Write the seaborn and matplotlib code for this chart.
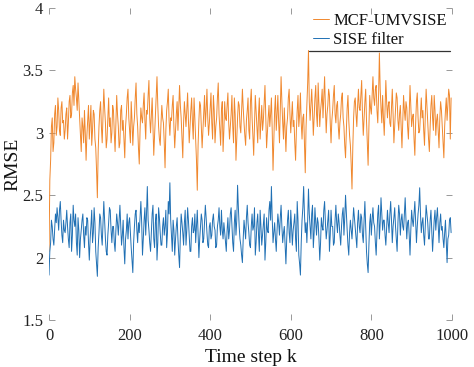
import numpy as np
import pandas as pd
import matplotlib
matplotlib.use('Agg')
import matplotlib.pyplot as plt
from matplotlib.lines import Line2D
import seaborn as sns

# --- Data (one value every 2 time steps) ---
STEP = 2
mcf_umvsise = [
    2.05, 2.62, 2.78, 3.05, 3.12, 2.85, 2.92, 3.15, 3.22, 2.98, 3.05, 3.28, 3.18, 3.02, 2.98, 3.20, 3.25, 3.08, 3.10, 2.95,
    3.02, 3.15, 3.20, 2.95, 3.08, 3.25, 3.30, 3.12, 3.15, 3.32, 3.38, 3.22, 3.45, 3.35, 3.28, 3.18, 3.40, 3.25, 3.12, 2.98,
    2.85, 3.12, 3.05, 2.92, 3.18, 3.00, 2.78, 2.98, 3.10, 3.22, 2.95, 3.08, 3.22, 2.90, 3.02, 3.18, 3.15, 2.95, 2.88, 2.70,
    2.48, 2.85, 3.05, 3.18, 3.25, 3.05, 2.92, 3.15, 3.35, 3.20, 3.08, 2.88, 2.95, 3.12, 3.28, 3.05, 3.12, 2.92, 3.00, 3.22,
    3.18, 3.00, 2.85, 3.08, 3.30, 3.15, 3.05, 2.88, 2.92, 3.18, 3.22, 3.02, 3.10, 2.95, 2.80, 3.05, 3.15, 3.28, 3.35, 3.12,
    3.02, 2.92, 3.25, 3.10, 2.90, 3.05, 3.12, 3.28, 3.40, 3.15, 3.05, 2.88, 2.75, 3.02, 3.20, 3.12, 3.08, 3.22, 3.32, 3.10,
    2.95, 3.18, 3.15, 3.30, 3.42, 3.12, 3.00, 3.15, 3.28, 3.05, 2.82, 2.98, 3.12, 3.30, 3.45, 3.22, 3.05, 2.95, 2.90, 3.08,
    3.22, 3.12, 3.08, 2.92, 2.72, 3.02, 3.18, 3.25, 3.35, 3.10, 2.98, 3.12, 3.10, 3.22, 3.30, 3.05, 2.88, 3.02, 3.15, 3.25,
    3.02, 3.20, 3.38, 3.22, 3.12, 2.95, 2.80, 3.08, 3.25, 3.15, 3.05, 3.18, 3.32, 3.10, 2.92, 3.05, 3.18, 3.28, 3.08, 2.95,
    3.28, 3.12, 2.95, 2.78, 2.54, 2.90, 3.10, 3.25, 3.22, 3.05, 2.88, 3.02, 3.15, 3.30, 3.05, 3.18, 3.35, 3.12, 2.98, 3.08,
    3.20, 3.32, 3.08, 2.95, 3.30, 3.18, 2.92, 3.05, 3.12, 3.28, 3.40, 3.15, 3.02, 2.90, 3.18, 3.25, 2.85, 3.02, 3.25, 3.12,
    3.10, 3.22, 3.32, 3.08, 2.95, 3.05, 3.15, 3.30, 3.05, 2.92, 3.28, 3.15, 2.78, 2.95, 3.12, 3.25, 3.22, 3.05, 3.00, 3.18,
    3.35, 3.20, 3.08, 2.98, 2.90, 3.10, 3.18, 3.28, 3.02, 2.95, 3.25, 3.35, 3.12, 2.98, 2.82, 3.05, 3.30, 3.18, 3.05, 2.92,
    3.15, 3.28, 2.95, 3.08, 3.22, 3.02, 3.10, 3.25, 3.38, 3.12, 2.88, 3.00, 3.12, 3.22, 3.05, 3.15, 3.28, 3.02, 2.70, 2.95,
    3.18, 3.30, 3.02, 3.15, 3.30, 3.08, 2.92, 3.18, 3.45, 3.25, 3.08, 2.95, 3.20, 3.02, 2.85, 3.05, 3.12, 3.28, 3.35, 3.15,
    3.00, 3.12, 3.25, 3.05, 3.10, 2.92, 2.78, 3.02, 3.18, 3.30, 3.05, 3.15, 3.32, 3.08, 2.95, 3.12, 3.15, 2.90, 2.68, 3.05,
    3.22, 3.40, 3.66, 3.25, 3.10, 3.22, 3.35, 3.18, 2.98, 3.12, 3.28, 3.38, 3.15, 3.05, 3.40, 3.22, 3.05, 3.18, 3.25, 3.35,
    3.12, 3.28, 3.45, 3.20, 3.00, 3.15, 3.22, 3.35, 3.30, 3.08, 2.92, 3.10, 3.18, 3.30, 3.38, 3.15, 3.08, 3.22, 3.25, 3.05,
    2.95, 3.08, 3.15, 3.28, 3.32, 3.12, 3.05, 2.90, 2.80, 3.02, 3.20, 3.30, 3.10, 2.98, 2.90, 2.75, 2.55, 2.88, 3.12, 3.25,
    3.28, 3.15, 3.05, 3.22, 3.35, 3.20, 3.18, 3.30, 3.42, 3.15, 2.98, 3.12, 3.25, 3.35, 3.10, 2.92, 2.74, 3.05, 3.30, 3.20,
    3.15, 3.30, 3.45, 3.28, 3.22, 3.35, 3.38, 3.18, 3.08, 3.30, 3.64, 3.35, 3.20, 3.08, 3.30, 3.12, 2.98, 3.18, 3.42, 3.25,
    3.12, 3.22, 3.25, 3.08, 3.05, 3.20, 3.35, 3.15, 2.92, 3.05, 3.18, 3.32, 3.28, 3.10, 3.02, 3.15, 3.22, 3.05, 2.88, 3.08,
    3.30, 3.18, 3.10, 3.25, 3.20, 3.05, 2.95, 3.15, 3.38, 3.22, 3.05, 3.12, 3.15, 2.95, 2.82, 3.08, 3.25, 3.32, 3.12, 3.00,
    3.02, 3.15, 3.28, 3.12, 3.18, 3.02, 2.90, 3.15, 3.35, 3.22, 3.08, 2.95, 2.85, 3.05, 3.22, 3.30, 3.12, 3.02, 3.30, 3.18,
    2.98, 3.10, 3.15, 3.02, 2.88, 3.12, 3.25, 3.18, 3.05, 2.92, 2.80, 3.05, 3.18, 3.28, 3.10, 3.22, 3.35, 3.30, 2.95, 3.28,
]
sise_filter = [
    1.86, 2.05, 2.12, 2.30, 2.25, 2.15, 2.10, 2.22, 2.35, 2.28, 2.40, 2.32, 2.22, 2.38, 2.45, 2.30, 2.18, 2.12, 2.30, 2.22,
    2.20, 2.28, 2.38, 2.25, 2.15, 2.08, 2.28, 2.35, 2.05, 2.18, 2.42, 2.30, 2.25, 2.35, 2.12, 2.02, 2.32, 2.22, 2.00, 2.15,
    2.22, 2.30, 2.35, 2.18, 2.08, 2.25, 2.18, 2.32, 2.30, 2.12, 1.98, 2.15, 2.25, 2.38, 2.12, 2.20, 2.40, 2.28, 2.05, 1.95,
    1.85, 2.08, 2.20, 2.35, 2.32, 2.18, 2.10, 2.28, 2.45, 2.30, 2.15, 2.05, 2.02, 2.18, 2.28, 2.40, 2.38, 2.22, 2.12, 2.25,
    2.25, 2.12, 2.05, 2.22, 2.35, 2.28, 2.18, 2.30, 2.42, 2.25, 2.10, 2.18, 2.30, 2.08, 1.95, 2.15, 2.22, 2.35, 2.15, 2.28,
    2.32, 2.20, 2.08, 1.98, 1.88, 2.12, 2.25, 2.35, 2.38, 2.22, 2.12, 2.28, 2.20, 2.32, 2.45, 2.28, 2.02, 2.15, 2.30, 2.40,
    2.18, 2.35, 2.57, 2.30, 2.22, 2.12, 2.05, 2.20, 2.35, 2.42, 2.15, 2.08, 2.28, 2.35, 1.98, 2.12, 2.40, 2.32, 2.20, 2.10,
    2.10, 2.25, 2.32, 2.18, 2.25, 2.38, 2.08, 2.20, 2.45, 2.35, 2.60, 2.30, 2.18, 2.05, 2.30, 2.22, 2.02, 2.15, 2.25, 2.32,
    2.15, 2.02, 1.92, 2.18, 2.35, 2.28, 2.20, 2.10, 2.28, 2.38, 2.10, 2.22, 2.40, 2.30, 2.18, 2.05, 2.05, 2.25, 2.32, 2.20,
    2.22, 2.35, 2.12, 2.25, 2.38, 2.20, 2.00, 2.15, 2.25, 2.35, 2.30, 2.12, 2.15, 2.28, 2.42, 2.32, 2.20, 2.10, 2.08, 2.25,
    2.28, 2.15, 2.18, 2.30, 2.35, 2.25, 2.22, 2.08, 2.10, 2.25, 2.30, 2.40, 2.25, 2.18, 2.38, 2.22, 2.15, 2.28, 2.20, 2.12,
    2.05, 2.22, 2.32, 2.15, 2.22, 2.35, 2.40, 2.25, 2.12, 2.05, 2.28, 2.38, 2.18, 2.30, 2.58, 2.40, 2.25, 2.15, 2.10, 2.02,
    1.96, 2.15, 2.30, 2.22, 2.15, 2.32, 2.42, 2.28, 2.20, 2.10, 2.08, 2.25, 2.35, 2.22, 2.25, 2.40, 2.02, 2.12, 2.28, 2.35,
    2.18, 2.05, 2.38, 2.25, 2.10, 2.18, 2.25, 2.35, 1.98, 2.12, 2.32, 2.22, 2.20, 2.38, 2.45, 2.30, 2.57, 2.32, 2.12, 2.20,
    2.28, 2.15, 2.05, 2.22, 2.35, 2.28, 2.18, 2.32, 2.42, 2.25, 2.12, 2.20, 2.25, 2.10, 1.95, 2.15, 2.30, 2.38, 2.20, 2.12,
    2.38, 2.25, 2.10, 2.22, 2.28, 2.35, 2.15, 2.05, 2.45, 2.30, 2.02, 1.95, 1.86, 2.12, 2.30, 2.40, 2.57, 2.35, 2.20, 2.28,
    2.12, 2.30, 2.55, 2.35, 2.25, 2.15, 2.35, 2.42, 2.08, 2.20, 2.40, 2.28, 2.18, 2.32, 2.28, 2.15, 1.98, 2.12, 2.32, 2.25,
    2.22, 2.38, 2.45, 2.28, 2.15, 2.22, 2.30, 2.38, 2.05, 2.18, 2.38, 2.25, 2.25, 2.10, 2.12, 2.30, 2.42, 2.28, 2.20, 2.35,
    2.28, 2.18, 2.10, 2.25, 2.35, 2.40, 2.18, 2.32, 2.50, 2.35, 2.22, 2.10, 2.02, 2.20, 2.30, 2.22, 2.15, 2.28, 2.40, 2.32,
    2.25, 2.15, 2.08, 2.28, 2.38, 2.25, 2.20, 2.35, 2.32, 2.18, 2.12, 2.30, 2.45, 2.25, 2.05, 1.95, 1.88, 2.10, 2.28, 2.35,
    2.18, 2.30, 2.40, 2.28, 2.25, 2.12, 2.02, 2.20, 2.35, 2.42, 2.15, 2.28, 2.48, 2.35, 2.22, 2.30, 2.30, 2.18, 2.10, 2.25,
    2.38, 2.28, 2.20, 2.35, 2.45, 2.30, 2.12, 2.25, 2.32, 2.40, 2.25, 2.15, 2.05, 2.28, 2.42, 2.35, 2.18, 2.30, 2.35, 2.25,
    2.22, 2.35, 2.48, 2.30, 2.15, 2.28, 2.30, 2.18, 2.02, 2.22, 2.38, 2.30, 2.25, 2.35, 2.45, 2.28, 2.12, 2.25, 2.35, 2.42,
    2.56, 2.35, 2.20, 2.28, 2.32, 2.18, 2.10, 2.25, 2.42, 2.35, 2.28, 2.15, 2.15, 2.30, 2.38, 2.22, 2.05, 2.18, 2.30, 2.38,
    2.22, 2.32, 2.40, 2.25, 2.12, 2.28, 2.35, 2.22, 2.25, 2.15, 2.08, 2.20, 2.30, 2.12, 1.96, 2.15, 2.18, 2.30, 2.32, 2.20,
]
series_labels = ['MCF-UMVSISE', 'SISE filter']
x_ticks = [0, 200, 400, 600, 800, 1000]
y_ticks = [1.5, 2, 2.5, 3, 3.5, 4]

ORANGE = '#F0882E'
BLUE = '#2070B4'


def main():
    sns.set_theme(style='white')
    plt.rcParams['font.family'] = ['Liberation Serif', 'DejaVu Serif']

    k = np.arange(len(mcf_umvsise)) * STEP
    df = pd.DataFrame({'k': k, 'mcf': mcf_umvsise, 'sise': sise_filter})

    fig = plt.figure(figsize=(4.74, 3.67), dpi=100)
    ax = fig.add_axes([0.1034, 0.128, 0.850, 0.850])

    sns.lineplot(data=df, x='k', y='mcf', ax=ax, color=ORANGE,
                 linewidth=0.7, label=series_labels[0])
    sns.lineplot(data=df, x='k', y='sise', ax=ax, color=BLUE,
                 linewidth=0.7, label=series_labels[1])

    ax.set_xlim(0, 1000)
    ax.set_ylim(1.5, 4)
    ax.set_xticks(x_ticks)
    ax.set_yticks(y_ticks)
    ax.set_xticklabels([str(t) for t in x_ticks])
    ax.set_yticklabels([f'{t:g}' for t in y_ticks])
    for s in ax.spines.values():
        s.set_visible(False)
    ax.tick_params(direction='in', length=4, width=0.6, color='#888888',
                   labelsize=12, labelcolor='#222222',
                   top=True, right=True, bottom=True, left=True)
    ax.tick_params(axis='x', pad=6)
    ax.tick_params(axis='y', pad=4)

    ax.set_xlabel('Time step k', fontsize=14, color='#111111', labelpad=3)
    ax.set_ylabel('RMSE', fontsize=14, color='#111111', labelpad=1)

    leg = ax.legend(loc='upper right', bbox_to_anchor=(1.0, 1.0),
                    frameon=False, fontsize=12, handlelength=1.0,
                    handletextpad=0.25, labelspacing=0.15,
                    borderpad=0.2, borderaxespad=0.1)
    for txt in leg.get_texts():
        txt.set_color('#111111')

    # legend box: only its bottom edge shows in the reference
    fig.canvas.draw()
    bb = leg.get_window_extent().transformed(fig.transFigure.inverted())
    fig.add_artist(Line2D([bb.x0, bb.x1], [bb.y0, bb.y0],
                          transform=fig.transFigure, color='#333333', lw=0.9))

    fig.savefig('out.png', dpi=100)
    plt.close(fig)


if __name__ == '__main__':
    main()
